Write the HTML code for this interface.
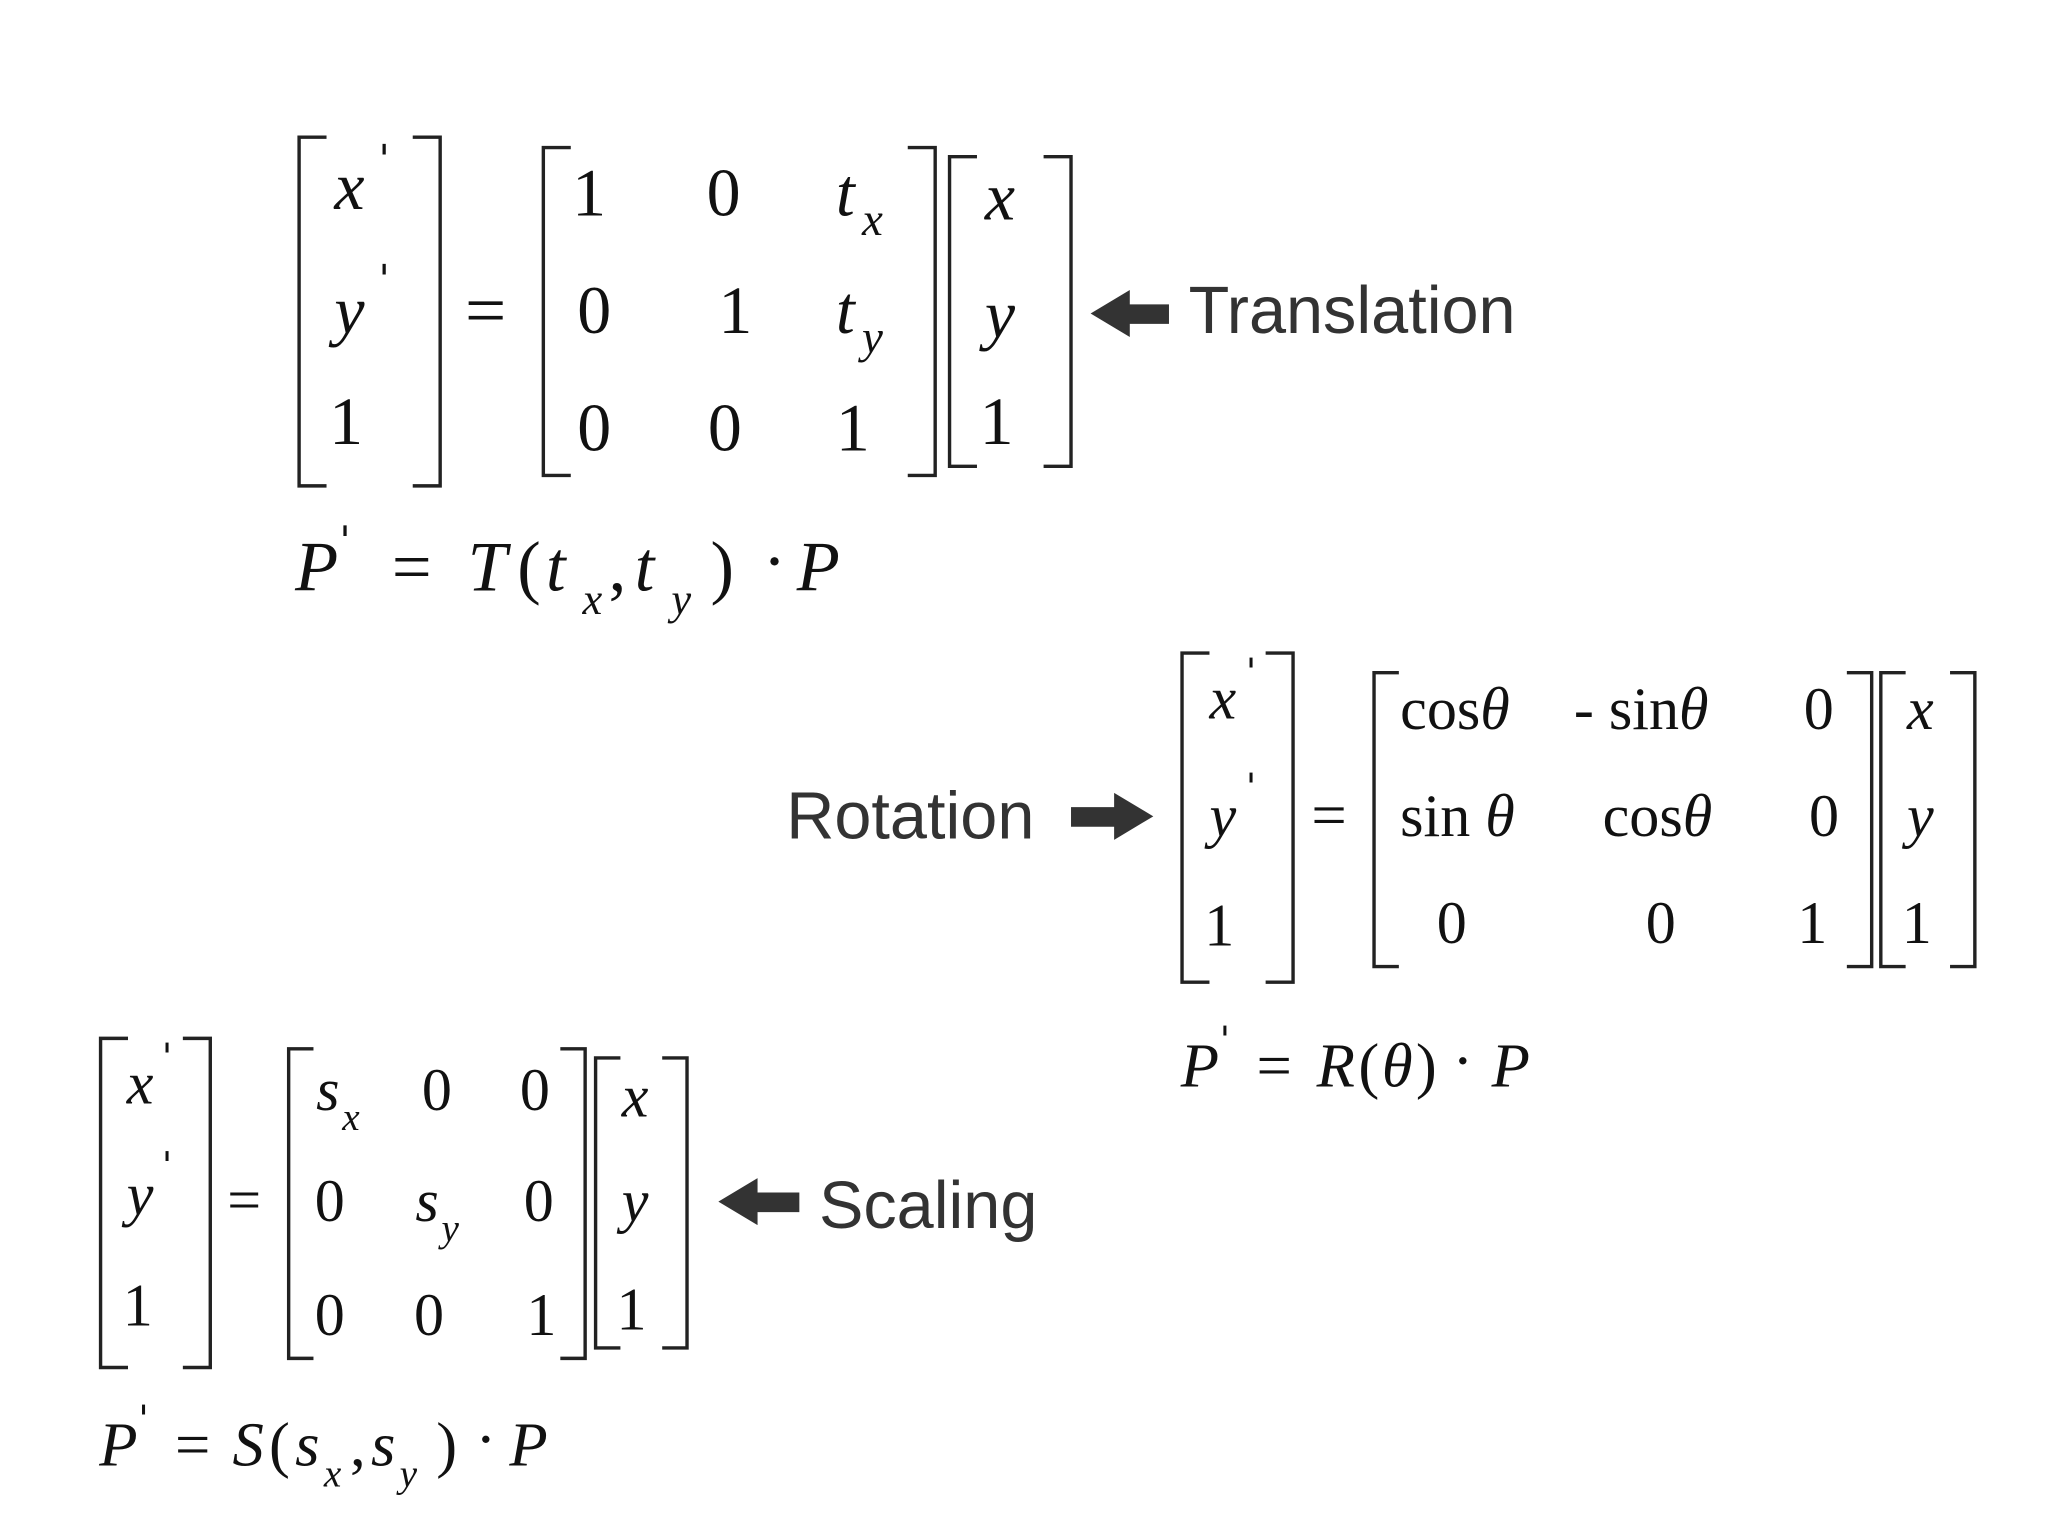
<!DOCTYPE html>
<html><head><meta charset="utf-8"><style>
html,body{margin:0;padding:0;background:#fff;}
svg{display:block;}
.m{font-family:"Liberation Serif",serif;fill:#111;}
.i{font-style:italic;}
.s{font-family:"Liberation Sans",sans-serif;fill:#333;}
.b{fill:none;stroke:#222;stroke-width:2.6;}
.p{font-family:"DejaVu Sans",sans-serif;}
</style></head><body>
<svg width="2048" height="1536" viewBox="0 0 1568 1176" xmlns="http://www.w3.org/2000/svg">
<!-- ===== Translation ===== -->
<path class="b" d="M250 105H229V372H250M316 105H337V372H316"/>
<g class="m" font-size="52">
<text x="256" y="160" class="i">x</text><text x="290" y="132" font-size="30" class="p">'</text>
<text x="256" y="255" class="i">y</text><text x="290" y="224" font-size="30" class="p">'</text>
<text x="252" y="340">1</text>
<text x="356" y="256" font-size="56">=</text>
<text x="438" y="165">1</text><text x="541" y="165">0</text>
<text x="640" y="165" class="i">t</text><text x="660" y="180" class="i" font-size="36">x</text>
<text x="442" y="255">0</text><text x="550" y="255">1</text>
<text x="640" y="255" class="i">t</text><text x="660" y="270" class="i" font-size="36">y</text>
<text x="442" y="345">0</text><text x="542" y="345">0</text><text x="640" y="345">1</text>
<text x="754" y="168" class="i">x</text>
<text x="754" y="258" class="i">y</text>
<text x="750" y="340">1</text>
</g>
<path class="b" d="M437 113H416V364H437M695 113H716V364H695"/>
<path class="b" d="M748 120H727V357H748M799 120H820V357H799"/>
<polygon points="835,240 865,222 865,233 895,233 895,248 865,248 865,258" fill="#333"/>
<text x="910" y="255" class="s" font-size="51">Translation</text>
<g class="m" font-size="54">
<text x="226" y="452" class="i">P</text><text x="260" y="424" font-size="30" class="p">'</text>
<text x="300" y="452">=</text>
<text x="358" y="452" class="i">T</text><text x="396" y="452">(</text>
<text x="418" y="452" class="i">t</text><text x="446" y="470" class="i" font-size="34">x</text>
<text x="466" y="452">,</text>
<text x="486" y="452" class="i">t</text><text x="514" y="470" class="i" font-size="34">y</text>
<text x="544" y="452">)</text><text x="584" y="448">·</text>
<text x="610" y="452" class="i">P</text>
</g>
<!-- ===== Rotation ===== -->
<text x="602" y="642" class="s" font-size="51">Rotation</text>
<polygon points="883,625 853,607 853,618 820,618 820,633 853,633 853,643" fill="#333"/>
<path class="b" d="M926 500H905V752H926M969 500H990V752H969"/>
<g class="m" font-size="46">
<text x="926" y="550" class="i">x</text><text x="954" y="524" font-size="28" class="p">'</text>
<text x="926" y="640" class="i">y</text><text x="954" y="612" font-size="28" class="p">'</text>
<text x="922" y="724">1</text>
<text x="1004" y="640" font-size="48">=</text>
<text x="1072" y="558">cos<tspan class="i">θ</tspan></text>
<text x="1205" y="558">- sin<tspan class="i">θ</tspan></text>
<text x="1381" y="558">0</text>
<text x="1072" y="640">sin <tspan class="i">θ</tspan></text>
<text x="1227" y="640">cos<tspan class="i">θ</tspan></text>
<text x="1385" y="640">0</text>
<text x="1100" y="722">0</text><text x="1260" y="722">0</text><text x="1376" y="722">1</text>
<text x="1460" y="558" class="i">x</text>
<text x="1460" y="640" class="i">y</text>
<text x="1456" y="722">1</text>
</g>
<path class="b" d="M1071 515H1052V740H1071M1414 515H1433V740H1414"/>
<path class="b" d="M1459 515H1440V740H1459M1493 515H1512V740H1493"/>
<g class="m" font-size="48">
<text x="904" y="832" class="i">P</text><text x="934" y="806" font-size="28" class="p">'</text>
<text x="962" y="832">=</text>
<text x="1008" y="832" class="i">R</text><text x="1040" y="832">(</text>
<text x="1058" y="832" class="i">θ</text><text x="1084" y="832">)</text>
<text x="1112" y="828">·</text><text x="1142" y="832" class="i">P</text>
</g>
<!-- ===== Scaling ===== -->
<path class="b" d="M98 795H77V1047H98M140 795H161V1047H140"/>
<g class="m" font-size="46">
<text x="97" y="845" class="i">x</text><text x="124" y="819" font-size="28" class="p">'</text>
<text x="97" y="930" class="i">y</text><text x="124" y="902" font-size="28" class="p">'</text>
<text x="94" y="1015">1</text>
<text x="174" y="934">=</text>
<text x="242" y="850" class="i">s</text><text x="262" y="865" class="i" font-size="30">x</text>
<text x="323" y="850">0</text><text x="398" y="850">0</text>
<text x="241" y="935">0</text>
<text x="318" y="935" class="i">s</text><text x="338" y="950" class="i" font-size="30">y</text>
<text x="401" y="935">0</text>
<text x="241" y="1022">0</text><text x="317" y="1022">0</text><text x="403" y="1022">1</text>
<text x="476" y="855" class="i">x</text>
<text x="476" y="935" class="i">y</text>
<text x="472" y="1018">1</text>
</g>
<path class="b" d="M240 803H221V1040H240M429 803H448V1040H429"/>
<path class="b" d="M475 810H456V1032H475M507 810H526V1032H507"/>
<polygon points="550,920 580,902 580,913 612,913 612,928 580,928 580,938" fill="#333"/>
<text x="627" y="940" class="s" font-size="51">Scaling</text>
<g class="m" font-size="48">
<text x="76" y="1122" class="i">P</text><text x="106" y="1096" font-size="28" class="p">'</text>
<text x="134" y="1122">=</text>
<text x="178" y="1122" class="i">S</text><text x="206" y="1122">(</text>
<text x="226" y="1122" class="i">s</text><text x="248" y="1138" class="i" font-size="30">x</text>
<text x="268" y="1122">,</text>
<text x="284" y="1122" class="i">s</text><text x="306" y="1138" class="i" font-size="30">y</text>
<text x="334" y="1122">)</text><text x="364" y="1118">·</text>
<text x="390" y="1122" class="i">P</text>
</g>
</svg>
</body></html>
